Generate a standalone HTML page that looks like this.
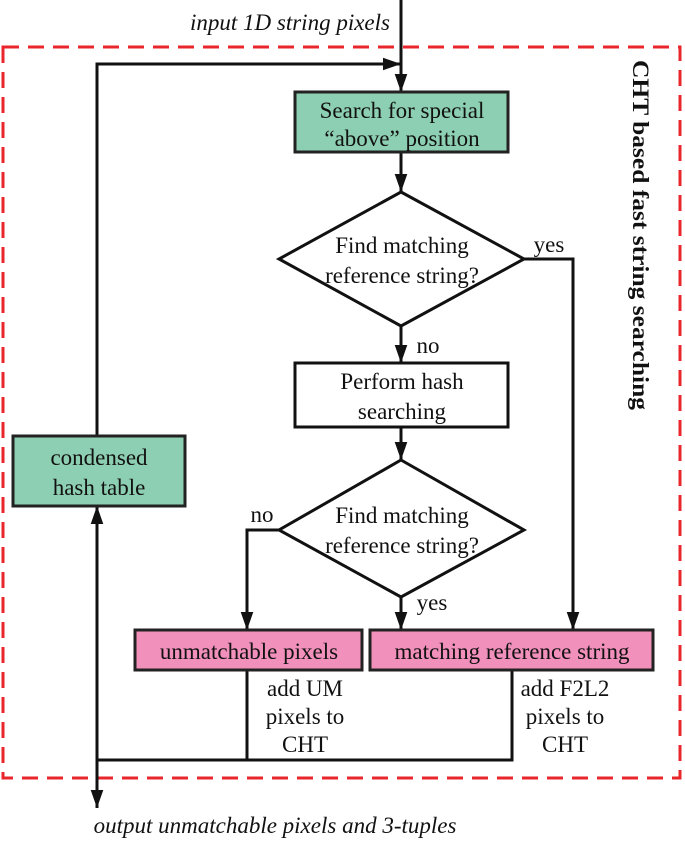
<!DOCTYPE html>
<html><head><style>
body{margin:0;background:#fff;}
svg text{font-family:"Liberation Serif","Times New Roman","DejaVu Serif",serif;font-size:23px;fill:#111;}
</style></head><body>
<svg width="685" height="840" viewBox="0 0 685 840" xmlns="http://www.w3.org/2000/svg" font-family="Liberation Serif, Times New Roman, serif">
<defs>
<marker id="b" viewBox="0 0 10 10" markerWidth="18" markerHeight="18" refX="10" refY="5" orient="auto" markerUnits="userSpaceOnUse"><path d="M0,1.5 L10,5 L0,8.5 z" fill="#111"/></marker></defs>
<rect x="3" y="47" width="677" height="731" fill="none" stroke="#e8262c" stroke-width="3" stroke-dasharray="16,9"/>
<g stroke="#111" stroke-width="3" fill="none">
<line x1="401" y1="0" x2="401" y2="92" marker-end="url(#b)"/>
<polyline points="97,436 97,64 401,64" marker-end="url(#b)"/>
<line x1="401" y1="152" x2="401" y2="192" marker-end="url(#b)"/>
<polyline points="524,259 573,259 573,630" marker-end="url(#b)"/>
<line x1="401" y1="326" x2="401" y2="363" marker-end="url(#b)"/>
<line x1="401" y1="427" x2="401" y2="460" marker-end="url(#b)"/>
<polyline points="279,530 247,530 247,630" marker-end="url(#b)"/>
<line x1="401" y1="597" x2="401" y2="630" marker-end="url(#b)"/>
<polyline points="247,670 247,760 512,760 512,670"/>
<line x1="97" y1="760" x2="247" y2="760"/>
<line x1="97" y1="760" x2="97" y2="808" marker-end="url(#b)"/>
<line x1="97" y1="760" x2="97" y2="506" marker-end="url(#b)"/>
</g>
<rect x="295" y="92" width="213" height="60" fill="#8dcfb2" stroke="#222" stroke-width="3"/>
<polygon points="401,192 524,259 401,326 279,259" fill="#fff" stroke="#111" stroke-width="3"/>
<rect x="295" y="363" width="213" height="64" fill="#fff" stroke="#111" stroke-width="3"/>
<polygon points="401,460 524,530 401,597 279,530" fill="#fff" stroke="#111" stroke-width="3"/>
<rect x="13" y="436" width="172" height="70" fill="#8dcfb2" stroke="#222" stroke-width="3"/>
<rect x="135" y="630" width="227" height="40" fill="#f190bb" stroke="#222" stroke-width="3"/>
<rect x="370" y="630" width="283" height="40" fill="#f190bb" stroke="#222" stroke-width="3"/>
<g text-anchor="middle">
<text x="290" y="30" font-style="italic">input 1D string pixels</text>
<text x="402" y="118">Search for special</text>
<text x="402" y="146">“above” position</text>
<text x="402" y="253">Find matching</text>
<text x="402" y="283">reference string?</text>
<text x="549" y="252">yes</text>
<text x="428" y="353">no</text>
<text x="402" y="389">Perform hash</text>
<text x="402" y="419">searching</text>
<text x="402" y="523">Find matching</text>
<text x="402" y="553">reference string?</text>
<text x="262" y="522">no</text>
<text x="432" y="610">yes</text>
<text x="99" y="465">condensed</text>
<text x="99" y="495">hash table</text>
<text x="249" y="659">unmatchable pixels</text>
<text x="512" y="659">matching reference string</text>
<text x="305" y="696">add UM</text>
<text x="305" y="724">pixels to</text>
<text x="305" y="752">CHT</text>
<text x="565" y="696">add F2L2</text>
<text x="565" y="724">pixels to</text>
<text x="565" y="752">CHT</text>
<text x="275" y="833" font-style="italic">output unmatchable pixels and  3-tuples</text>
</g>
<text transform="translate(633,60) rotate(90)" font-weight="bold" textLength="350" lengthAdjust="spacingAndGlyphs">CHT based fast string searching</text>
</svg>
</body></html>
